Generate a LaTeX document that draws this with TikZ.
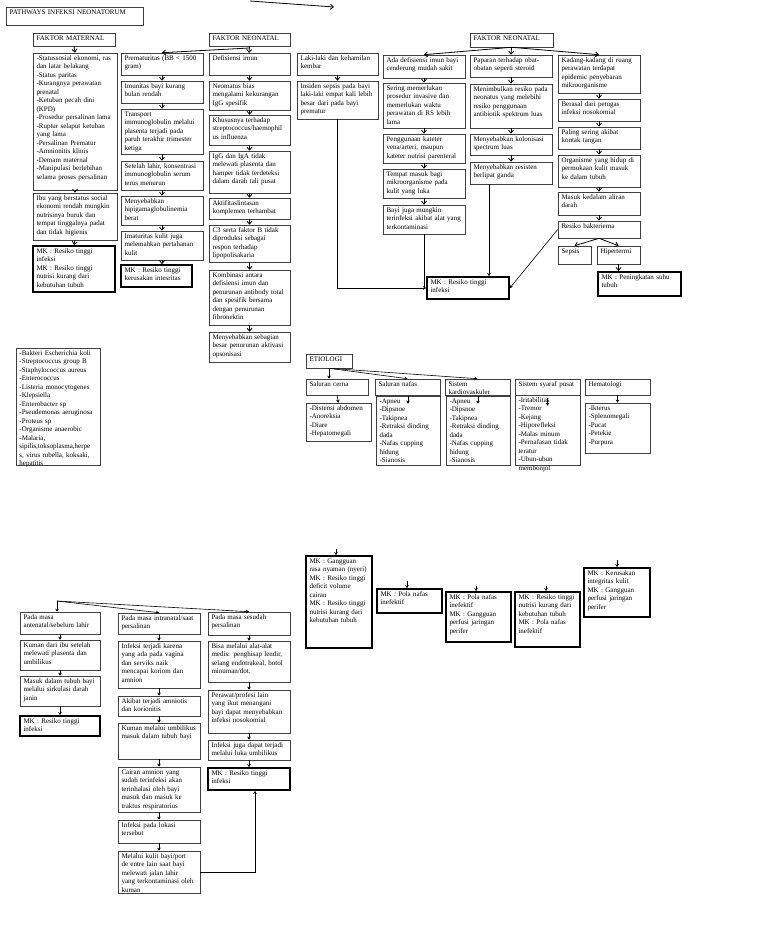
\documentclass[tikz,border=0pt]{standalone}
\usepackage{fontspec}
\setmainfont{Liberation Serif}
\usetikzlibrary{arrows.meta}
\newlanguage\nohyph
\newcommand\bx[7][]{%
  \pgfmathsetmacro\bxw{#5-#3}\pgfmathsetmacro\bxh{#6-#4}\pgfmathsetmacro\bxt{#5-#3-7.5}%
  \node[boxst,#1,minimum width=\bxw pt,minimum height=\bxh pt] (#2) at ({(#3+#5)/2},{(#4+#6)/2}) {};
  \node[txt,text width=\bxt pt] (#2t) at (#3+3.3,#4+2.3) {\language=\nohyph\relax #7};}
\tikzset{
  boxst/.style={draw=black!75,line width=0.6pt,inner sep=0pt},
  bold/.style={draw=black,line width=1.8pt},
  txt/.style={anchor=north west,inner sep=0pt,align=left,font=\fontsize{7}{8.5}\selectfont},
  ar/.style={-{Straight Barb[length=3pt,width=5pt]},line width=0.8pt},
  sa/.style={-{Stealth[length=3pt,width=3.5pt]},line width=0.6pt},
  ln/.style={line width=0.6pt}}
\begin{document}
\begin{tikzpicture}[x=1pt,y=-1pt]
\useasboundingbox[fill=white] (0,0) rectangle (768,932);
% stray top arrow
\coordinate (s1) at (250,1); \coordinate (s2) at (334,7);
\draw[ar] (s1) -- (s2);
\bx{title}{6}{7}{143}{25}{PATHWAYS INFEKSI NEONATORUM}
% maternal
\bx{fm}{33}{33}{115}{46}{FAKTOR MATERNAL}
\bx{ml}{33}{53}{117}{190}{-Statussosial ekonomi, ras dan latar belakang\\-Status paritas\\-Kurangnya perawatan prenatal\\-Ketuban pecah dini (KPD)\\-Prosedur persalinan lama\\-Ruptur selaput ketuban yang lama\\-Persalinan Prematur\\-Amnionitis klinis\\-Demam maternal\\-Manipulasi berlebihan selama proses persalinan}
\bx{ibu}{33}{193}{117}{240}{Ibu yang berstatus social ekonomi rendah mungkin nutrisinya buruk dan tempat tinggalnya padat dan tidak higienis}
\bx[bold]{mk1}{33}{246}{115}{292}{MK : Resiko tinggi infeksi\\MK : Resiko tinggi nutrisi kurang dari kebutuhan tubuh}
\draw[ar] (fm.south) -- (ml.north); \draw[ar] (ml.south) -- (ibu.north); \draw[ar] (ibu.south) -- (mk1.north);
% faktor neonatal middle
\bx{fn1}{209}{33}{290}{46}{FAKTOR NEONATAL}
\bx{p1}{121}{53}{203}{75}{Prematuritas (BB < 1500 gram)}
\bx{p2}{121}{81}{203}{103}{Imunitas bayi kurang bulan rendah}
\bx{p3}{121}{109}{203}{154}{Transport immunoglobulin melalui plasenta terjadi pada paruh terakhir trimester ketiga}
\bx{p4}{121}{161}{203}{190}{Setelah lahir, konsentrasi immunoglobulin serum terus menurun}
\bx{p5}{121}{196}{203}{225}{Menyebabkan hipigamaglobulinemia berat}
\bx{p6}{121}{231}{203}{260}{Imaturitas kulit juga melemahkan pertahanan kulit}
\bx[bold]{p7}{121}{265}{192}{287}{MK : Resiko tinggi kerusakan intesritas}
\draw[ar] (fn1.south) -- (249,53); \draw[ar] (249,48) -- (p1.north);
\foreach \a/\b in {p1/p2,p2/p3,p3/p4,p4/p5,p5/p6} \draw[ar] (\a.south) -- (\b.north);
\draw[ar] (p6.south) -- (p6.south|-p7.north);
\bx{d1}{209}{53}{290}{75}{Defisiensi imun}
\bx{d2}{209}{81}{290}{110}{Neomatus bias mengalami kekurangan IgG spesifik}
\bx{d3}{209}{115}{290}{145}{Khususnya terhadap streptococcus/haemophil us influenza}
\bx{d4}{209}{151}{290}{193}{IgG dan IgA tidak melewati plasenta dan hamper tidak terdeteksi dalam darah tali pusat}
\bx{d5}{209}{198}{290}{219}{Aktifitaslintasan komplemen terhambat}
\bx{d6}{209}{225}{290}{262}{C3 serta faktor B tidak diproduksi sebagai respon terhadap lipopolisakaria}
\bx{d7}{209}{270}{290}{325}{Kombinasi antara defisiensi imun dan penurunan antibody total dan spesifik bersama dengan penurunan fibronektin}
\bx{d8}{209}{332}{290}{362}{Menyebabkan sebagian besar penurunan aktivasi opsonisasi}
\foreach \a/\b in {d1/d2,d2/d3,d3/d4,d4/d5,d5/d6,d6/d7,d7/d8} \draw[ar] (\a.south) -- (\b.north);
\bx{l1}{297}{53}{378}{75}{Laki-laki dan kehamilan kembar}
\bx{l2}{297}{81}{378}{119}{Insiden sepsis pada bayi laki-laki empat kali lebih besar dari pada bayi prematur}
\draw[ar] (l1.south) -- (l2.north);
% faktor neonatal right
\bx{fn2}{470}{33}{553}{47}{FAKTOR NEONATAL}
\bx{a1}{383}{55}{465}{78}{Ada defisiensi imun bayi cenderung mudah sakit}
\bx{a2}{383}{83}{465}{128}{Sering memerlukan prosedur invasive dan memerlukan waktu perawatan di RS lebih lama}
\bx{a3}{383}{134}{465}{163}{Penggunaan kateter vena/arteri, maupun kateter nutrisi parenteral}
\bx{a4}{383}{169}{465}{198}{Tempat masuk bagi mikroorganisme pada kulit yang luka}
\bx{a5}{383}{205}{465}{234}{Bayi juga mungkin terinfeksi akibat alat yang terkontaminasi}
\foreach \a/\b in {a1/a2,a2/a3,a3/a4,a4/a5} \draw[ar] (\a.south) -- (\b.north);
\bx{b1}{470}{55}{552}{77}{Paparan terhadap obat-obatan seperti steroid}
\bx{b2}{470}{84}{552}{128}{Menimbulkan resiko pada neonatus yang melebihi resiko penggunaan antibiotik spektrum luas}
\bx{b3}{470}{134}{552}{155}{Menyebabkan kolonisasi spectrum luas}
\bx{b4}{470}{162}{552}{184}{Menyebabkan resisten berlipat ganda}
\foreach \a/\b in {b1/b2,b2/b3,b3/b4} \draw[ar] (\a.south) -- (\b.north);
\bx{c1}{558}{55}{640}{93}{Kadang-kadang di ruang perawatan terdapat epidemic penyebaran mikroorganisme}
\bx{c2}{558}{99}{640}{121}{Berasal dari petugas infeksi nosokomial}
\bx{c3}{558}{127}{640}{149}{Paling sering akibat kontak tangan}
\bx{c4}{558}{155}{640}{187}{Organisme yang hidup di permukaan kulit masuk ke dalam tubuh}
\bx{c5}{558}{192}{640}{215}{Masuk kedalam aliran darah}
\bx{c6}{558}{221}{640}{238}{Resiko bakteriema}
\bx{c7}{558}{246}{591}{264}{Sepsis}
\bx{c8}{597}{246}{640}{264}{Hipertermi}
\bx[bold]{c9}{598}{272}{681}{296}{MK : Peningkatan suhu tubuh}
\foreach \a/\b in {c1/c2,c2/c3,c3/c4,c4/c5,c5/c6} \draw[ar] (\a.south) -- (\b.north);
\draw[ar] (c6.south) -- (c7.north); \draw[ar] (c6.south) -- (c8.north);
\draw[ar] (c8.south) -- (c8.south|-c9.north);
\draw[ar] (fn2.south) -- (a1.north); \draw[ar] (fn2.south) -- (b1.north); \draw[ar] (fn2.south) -- (c1.north);
\bx[bold]{mk2}{427}{277}{509}{299}{MK : Resiko tinggi infeksi}
\draw[sa] (l2.south) |- (mk2.west);
\draw[ln] (a5.south) -- (a5.south|-mk2.west);
\draw[sa] ([xshift=-22pt]b4.south) -- ([xshift=-22pt]b4.south|-mk2.north);
\draw[sa] (c6.west) -- (mk2.east);
% bakteri list
\bx{bak}{16}{348}{100}{465}{-Bakteri Escherichia koli\\-Streptococcus group B\\-Staphylococcus aureus\\-Enterococcus\\-Listeria monocytogenes\\-Klepsiella\\-Enterobacter sp\\-Pseudemonas aeruginosa\\-Proteus sp\\-Organisme anaerobic\\-Malaria,\\sipilis,toksoplasma,herpe s, virus rubella, koksaki, hepatitis}
% etiologi
\bx{et}{306}{354}{352}{368}{ETIOLOGI}
\bx{e1}{306}{379}{368}{395}{Saluran cerna}
\bx{e2}{375}{379}{440}{395}{Saluran nafas}
\bx{e3}{445}{379}{510}{395}{Sistem kardiovaskuler}
\bx{e4}{515}{379}{580}{395}{Sistem syaraf pusat}
\bx{e5}{585}{379}{650}{395}{Hematologi}
\bx{f1}{306}{403}{371}{441}{-Distensi abdomen\\-Anoreksia\\-Diare\\-Hepatomegali}
\bx{f2}{376}{396}{440}{465}{-Apneu\\-Dipsnoe\\-Takipnea\\-Retraksi dinding dada\\-Nafas cupping hidung\\-Sianosis}
\bx{f3}{446}{396}{510}{465}{-Apneu\\-Dipsnoe\\-Takipnea\\-Retraksi dinding dada\\-Nafas cupping hidung\\-Sianosis}
\bx{f4}{515}{395}{580}{465}{-Iritabilitas\\-Tremor\\-Kejang\\-Hiporefleksi\\-Malas minum\\-Pernafasan tidak teratur\\-Ubun-ubun membonjol}
\bx{f5}{585}{403}{650}{453}{-Ikterus\\-Splenomegali\\-Pucat\\-Petekie\\-Purpura}
\draw[sa] (et.south) -- (et.south|-e1.north);
\draw[sa] (et.south) -- (e2.north); \draw[sa] (et.south) -- (e3.north);
\draw[sa] (e1.south) -- (f1.north);
\draw[sa] (f2.north) -- ++(0,8); \draw[sa] (f3.north) -- ++(0,8);
\draw[sa] ([yshift=-3pt]f4.north) -- ++(0,8);
\draw[sa] (e5.south) -- (f5.north);
% bottom left
\coordinate (bo) at (57,601);
\bx{g1}{20}{612}{100}{634}{Pada masa antenatal/sebelum lahir}
\bx{g2}{20}{640}{100}{670}{Kuman dari ibu setelah melewati plasenta dan umbilikus}
\bx{g3}{20}{676}{100}{706}{Masuk dalam tubuh bayi melalui sirkulasi darah janin}
\bx[bold]{g4}{20}{716}{100}{736}{MK : Resiko tinggi infeksi}
\foreach \a/\b in {g1/g2,g2/g3,g3/g4} \draw[sa] (\a.south) -- (\b.north);
\bx{h1}{118}{613}{200}{634}{Pada masa intranatal/saat persalinan}
\bx{h2}{118}{641}{200}{688}{Infeksi terjadi karena yang ada pada vagina dan serviks naik mencapai koriom dan amnion}
\bx{h3}{118}{696}{200}{716}{Akibat terjadi amniotis dan korionitis}
\bx{h4}{118}{723}{200}{759}{Kuman melalui umbilikus masuk dalam tubuh bayi}
\bx{h5}{118}{767}{200}{812}{Cairan amnion yang sudah terinfeksi akan terinhalasi oleh bayi masuk dan masuk ke traktus respiratorius}
\bx{h6}{118}{820}{200}{843}{Infeksi pada lokasi tersebut}
\bx{h7}{118}{851}{200}{893}{Melalui kulit bayi/port de entre lain saat bayi melewati jalan lahir yang terkontaminasi oleh kuman}
\foreach \a/\b in {h1/h2,h2/h3,h3/h4,h4/h5,h5/h6,h6/h7} \draw[sa] (\a.south) -- (\b.north);
\bx{k1}{208}{612}{290}{635}{Pada masa sesudah persalinan}
\bx{k2}{208}{641}{290}{682}{Bisa melalui alat-alat medis: penghisap lendir, selang endotrakeal, botol minuman/dot.}
\bx{k3}{208}{690}{290}{733}{Perawat/profesi lain yang ikut menangani bayi dapat menyebabkan infeksi nosokomial}
\bx{k4}{208}{740}{290}{760}{Infeksi juga dapat terjadi melalui luka umbilikus}
\bx[bold]{k5}{208}{768}{290}{790}{MK : Resiko tinggi infeksi}
\foreach \a/\b in {k1/k2,k2/k3,k3/k4,k4/k5} \draw[sa] (\a.south) -- (\b.north);
\draw[sa] (bo) -- (bo|-g1.north); \draw[sa] (bo) -- (h1.north); \draw[sa] (bo) -- (k1.north);
\draw[sa] (h7.east) -| ([xshift=6pt]k5.south);
% bottom right MK
\bx[bold]{m1}{306}{556}{372}{648}{MK : Gangguan rasa nyaman (nyeri)\\MK : Resiko tinggi deficit volume cairan\\MK : Resiko tinggi nutrisi kurang dari kebutuhan tubuh}
\bx[bold]{m2}{377}{589}{442}{613}{MK : Pola nafas inefektif}
\bx[bold]{m3}{446}{592}{511}{642}{MK : Pola nafas inefektif\\MK : Gangguan perfusi jaringan perifer}
\bx[bold]{m4}{515}{592}{580}{647}{MK : Resiko tinggi nutrisi kurang dari kebutuhan tubuh\\MK : Pola nafas inefektif}
\bx[bold]{m5}{584}{568}{650}{617}{MK : Kerusakan integritas kulit\\MK : Gangguan perfusi jaringan perifer}
\coordinate (q1) at (336,549); \coordinate (q2) at (407,581); \coordinate (q3) at (476,586);
\coordinate (q4) at (546,586); \coordinate (q5) at (617,560);
\draw[sa] (q1) -- (q1|-m1.north); \draw[sa] (q2) -- (q2|-m2.north); \draw[sa] (q3) -- (q3|-m3.north);
\draw[sa] (q4) -- (q4|-m4.north); \draw[sa] (q5) -- (q5|-m5.north);
\end{tikzpicture}
\end{document}
